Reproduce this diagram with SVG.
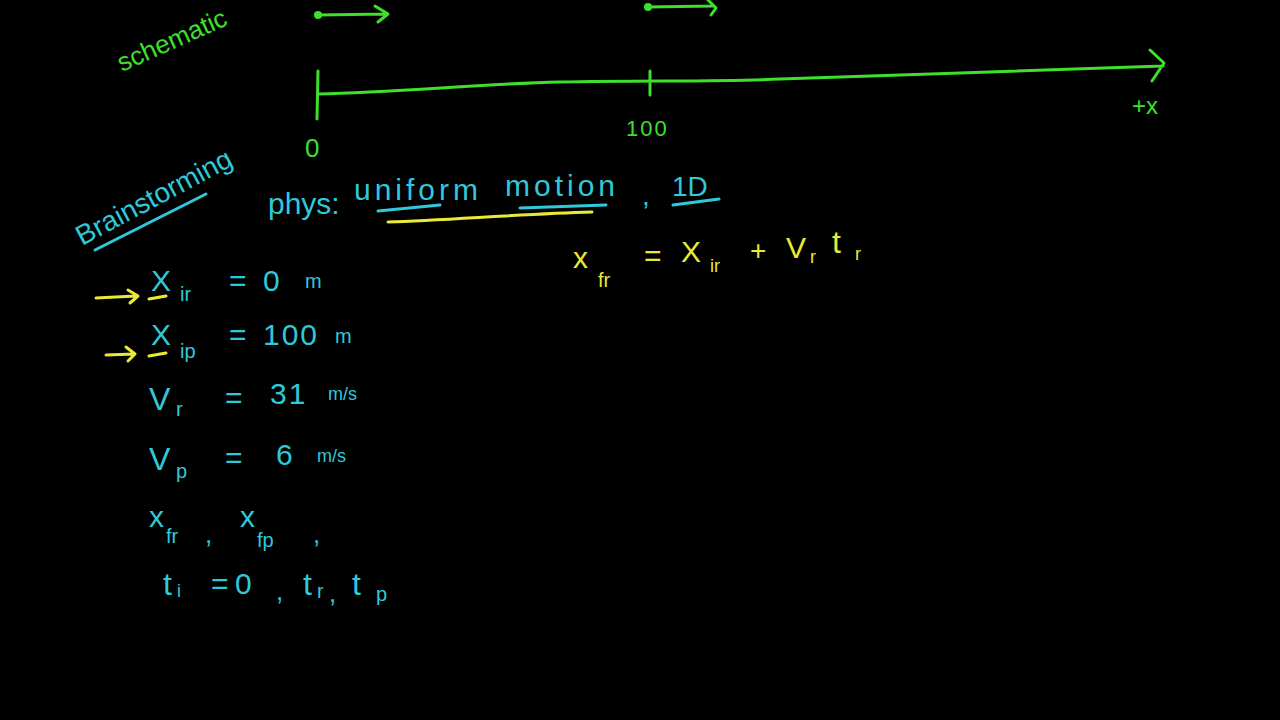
<svg xmlns="http://www.w3.org/2000/svg" width="1280" height="720" viewBox="0 0 1280 720">
<style>
.g{fill:#3ee02c;font-family:"Liberation Sans","DejaVu Sans",sans-serif}
.c{fill:#2fc9d9;font-family:"Liberation Sans","DejaVu Sans",sans-serif}
.y{fill:#e9ea35;font-family:"Liberation Sans","DejaVu Sans",sans-serif}
.gs{stroke:#3ee02c;stroke-width:3;fill:none;stroke-linecap:round;stroke-linejoin:round}
.cs{stroke:#2fc9d9;stroke-width:3;fill:none;stroke-linecap:round;stroke-linejoin:round}
.ys{stroke:#e9ea35;stroke-width:3;fill:none;stroke-linecap:round;stroke-linejoin:round}
</style>
<rect width="1280" height="720" fill="#000"/>
<g id="schematic">
<text class="g" font-size="26" transform="translate(122,72) rotate(-24)">schematic</text>
<circle cx="318" cy="15" r="4" fill="#3ee02c"/>
<path class="gs" d="M318,15 L386,14 M375,6 L388,14 L378,22"/>
<circle cx="648" cy="7" r="4" fill="#3ee02c"/>
<path class="gs" d="M648,7 L713,6 M708,0 L716,8 L711,15"/>
</g>
<g id="axis">
<path class="gs" d="M318,71 L317,119 M318,94 C400,92 480,84 560,82 C640,80 720,82 780,79 C900,75 1050,70 1163,66 M1150,50 L1164,63 L1152,81 M650,71 L650,95"/>
<text class="g" font-size="26" x="305" y="157">0</text>
<text class="g" font-size="22" x="626" y="136" letter-spacing="2">100</text>
<text class="g" font-size="24" x="1132" y="114">+x</text>
</g>
<g id="brainstorming">
<text class="c" font-size="28" transform="translate(82,246) rotate(-28)">Brainstorming</text>
<path class="cs" d="M95,250 L206,194"/>
</g>
<g id="phys">
<text class="c" font-size="30" x="268" y="214">phys:</text>
<text class="c" font-size="30" x="354" y="200" letter-spacing="4">uniform</text>
<text class="c" font-size="30" x="505" y="196" letter-spacing="4">motion</text>
<text class="c" font-size="28" x="642" y="205">,</text>
<text class="c" font-size="28" x="672" y="196">1D</text>
<path class="cs" d="M378,211 L440,205 M520,208 L606,205 M673,205 L719,199"/>
<path class="ys" d="M388,222 C450,220 520,214 592,212"/>
</g>
<g id="givens">
<text class="c" font-size="30" x="151" y="291">X</text>
<text class="c" font-size="20" x="180" y="301">ir</text>
<text class="c" font-size="30" x="229" y="291">=</text>
<text class="c" font-size="30" x="263" y="291">0</text>
<text class="c" font-size="20" x="305" y="288">m</text>
<text class="c" font-size="30" x="151" y="345">X</text>
<text class="c" font-size="20" x="180" y="358">ip</text>
<text class="c" font-size="30" x="229" y="345">=</text>
<text class="c" font-size="30" x="263" y="345" letter-spacing="2">100</text>
<text class="c" font-size="20" x="335" y="343">m</text>
<text class="c" font-size="32" x="149" y="410">V</text>
<text class="c" font-size="20" x="176" y="416">r</text>
<text class="c" font-size="30" x="225" y="408">=</text>
<text class="c" font-size="30" x="270" y="404" letter-spacing="2">31</text>
<text class="c" font-size="18" x="328" y="400">m/s</text>
<text class="c" font-size="32" x="149" y="470">V</text>
<text class="c" font-size="20" x="176" y="478">p</text>
<text class="c" font-size="30" x="225" y="468">=</text>
<text class="c" font-size="30" x="276" y="465">6</text>
<text class="c" font-size="18" x="317" y="462">m/s</text>
<path class="ys" d="M96,298 L136,296 M128,290 L138,296 L130,303 M149,299 L166,296 M106,355 L134,354 M126,347 L135,354 L128,361 M149,356 L166,353"/>
</g>
<g id="unknowns">
<text class="c" font-size="30" x="149" y="527">x</text>
<text class="c" font-size="20" x="166" y="543">fr</text>
<text class="c" font-size="26" x="205" y="543">,</text>
<text class="c" font-size="30" x="240" y="527">x</text>
<text class="c" font-size="20" x="257" y="547">fp</text>
<text class="c" font-size="26" x="313" y="543">,</text>
<text class="c" font-size="32" x="163" y="595">t</text>
<text class="c" font-size="18" x="177" y="597">i</text>
<text class="c" font-size="30" x="211" y="594">=</text>
<text class="c" font-size="30" x="235" y="594">0</text>
<text class="c" font-size="26" x="276" y="600">,</text>
<text class="c" font-size="32" x="303" y="595">t</text>
<text class="c" font-size="20" x="317" y="598">r</text>
<text class="c" font-size="26" x="329" y="602">,</text>
<text class="c" font-size="32" x="352" y="595">t</text>
<text class="c" font-size="20" x="376" y="601">p</text>
</g>
<g id="equation">
<text class="y" font-size="30" x="573" y="268">x</text>
<text class="y" font-size="20" x="598" y="287">fr</text>
<text class="y" font-size="30" x="644" y="266">=</text>
<text class="y" font-size="30" x="681" y="262">X</text>
<text class="y" font-size="18" x="710" y="272">ir</text>
<text class="y" font-size="28" x="750" y="260">+</text>
<text class="y" font-size="30" x="786" y="258">V</text>
<text class="y" font-size="18" x="810" y="263">r</text>
<text class="y" font-size="32" x="832" y="253">t</text>
<text class="y" font-size="18" x="855" y="260">r</text>
</g>
</svg>
